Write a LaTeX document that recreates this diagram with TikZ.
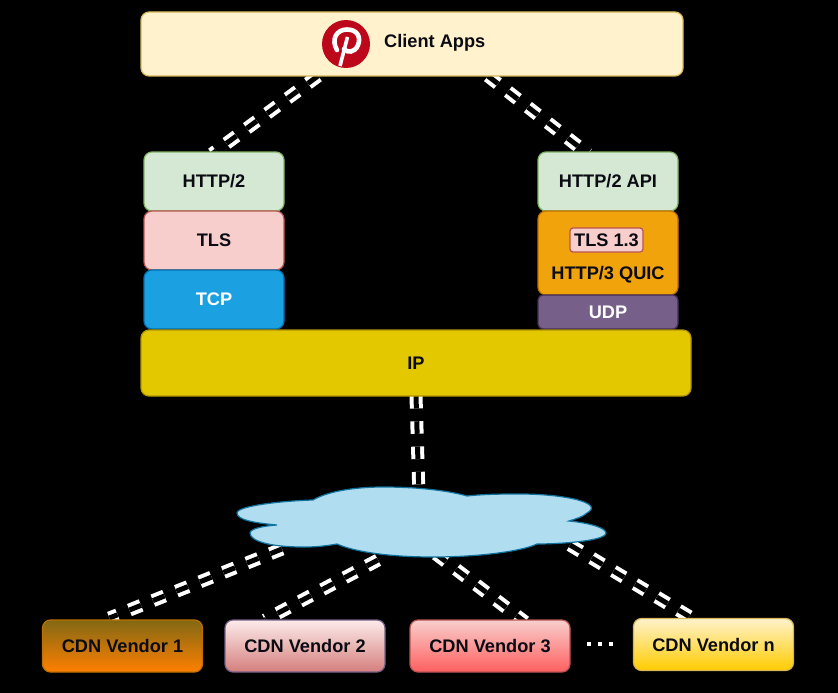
\documentclass[tikz,border=0pt]{standalone}
\usepackage{fontspec}
\setmainfont{Liberation Sans}
\usetikzlibrary{backgrounds}
\definecolor{txt}{HTML}{0B0B14}
\definecolor{yelF}{HTML}{FFF2CC}\definecolor{yelD}{HTML}{D6B656}
\definecolor{grnF}{HTML}{D5E8D4}\definecolor{grnD}{HTML}{82B366}
\definecolor{redF}{HTML}{F8CECC}\definecolor{redD}{HTML}{B85450}
\definecolor{bluF}{HTML}{1BA1E2}\definecolor{bluD}{HTML}{006EAF}
\definecolor{orgF}{HTML}{F0A30A}\definecolor{orgD}{HTML}{BD7000}
\definecolor{purF}{HTML}{76608A}\definecolor{purD}{HTML}{432D57}
\definecolor{ipF}{HTML}{E3C800}\definecolor{ipD}{HTML}{B09500}
\definecolor{cldF}{HTML}{B1DDF0}\definecolor{cldD}{HTML}{10739E}
\definecolor{pinR}{HTML}{BD081C}
\tikzset{
  box/.style={draw,rounded corners=8pt,line width=1.2pt,inner sep=0pt,outer sep=0pt,text=txt,
    font=\fontsize{18.2}{20}\selectfont\bfseries},
  vendor/.style={box,minimum width=160pt,minimum height=52pt},
  stackbox/.style={box,minimum width=140pt},
  label/.style={text=txt,inner sep=0pt,font=\fontsize{18.2}{20}\selectfont\bfseries},
  link/.style={draw=white,line width=4pt,double=black,double distance=5pt,dash pattern=on 12.5pt off 12.8pt},
  dotmark/.style={fill=white,inner sep=0pt,minimum size=4pt}
}
\begin{document}
\begin{tikzpicture}[x=1pt,y=-1pt]
\useasboundingbox (0,0) rectangle (838,693);
% nodes
\node[box,minimum width=542pt,minimum height=64pt,draw=yelD,fill=yelF] (client) at (412,44) {};
\node[label,anchor=west] (clienttxt) at (384,43) {Client Apps};
\node[circle,fill=pinR,minimum size=48pt,inner sep=0pt] (logo) at (346,44) {};
\draw[white,line width=4.6pt,line cap=round] (337,50) .. controls (331,40) and (336,29.5) .. (347,29.5) .. controls (358,29.5) and (361,38) .. (358,45) .. controls (355,53) and (347,53) .. (344,49);
\draw[white,line width=3.6pt] (347.5,37) -- (340,66);

\node[stackbox,minimum height=59pt,draw=grnD,fill=grnF] (http2) at (214,181.5) {HTTP/2};
\node[stackbox,minimum height=59pt,draw=redD,fill=redF] (tls) at (214,240.5) {TLS};
\node[stackbox,minimum height=59pt,draw=bluD,fill=bluF,text=white] (tcp) at (214,299.5) {TCP};

\node[stackbox,minimum height=59pt,draw=grnD,fill=grnF] (api) at (608,181.5) {HTTP/2 API};
\node[stackbox,minimum height=84pt,draw=orgD,fill=orgF] (quic) at (608,253) {};
\node[label] (quictxt) at (608,275) {HTTP/3 QUIC};
\node[box,rounded corners=3pt,minimum width=73pt,minimum height=24pt,draw=redD,fill=redF] (tls13) at (606.5,240) {TLS 1.3};
\node[stackbox,rounded corners=5pt,minimum height=34pt,draw=purD,fill=purF,text=white] (udp) at (608,312) {UDP};

\node[box,minimum width=550pt,minimum height=66pt,draw=ipD,fill=ipF] (ip) at (416,363) {IP};

\coordinate (cloud) at (420,522);
\draw[line width=1.2pt,draw=cldD,fill=cldF]
  (313,500) .. controls (330,490) and (360,487) .. (383,487)
  .. controls (420,487) and (450,491) .. (467,496)
  .. controls (485,494) and (505,494) .. (520,494)
  .. controls (565,494) and (605,503) .. (587,513)
  .. controls (583,517) and (575,519) .. (569,521)
  .. controls (590,523) and (606,528) .. (606,533)
  .. controls (606,541) and (560,544) .. (537,544)
  .. controls (520,552) and (475,557) .. (433,557)
  .. controls (390,557) and (355,552) .. (337,544)
  .. controls (320,547) and (310,547) .. (303,547)
  .. controls (270,547) and (250,541) .. (250,533)
  .. controls (250,529) and (262,526) .. (277,525)
  .. controls (255,523) and (237,520) .. (237,513)
  .. controls (237,506) and (280,501) .. (313,500) -- cycle;

\node[vendor,draw=orgD,top color={rgb:red,255;green,205;blue,40},bottom color=orange!100!yellow] (v1) at (122.5,646) {CDN Vendor 1};
\node[vendor,draw=purF,top color=redF!40!white,bottom color=redD!60!pink] (v2) at (305,646) {CDN Vendor 2};
\node[vendor,draw=redD,top color=redF,bottom color=red!50!pink] (v3) at (490,646) {CDN Vendor 3};
\node[vendor,draw=yelD,top color=yelF,bottom color=yellow!60!orange] (vn) at (713.5,644.5) {CDN Vendor n};
\node[dotmark] (d1) at (589,644) {};
\node[dotmark] (d2) at (600,644) {};
\node[dotmark] (d3) at (611,644) {};

\begin{scope}[on background layer]
\fill[black] (0,0) rectangle (838,693);
\draw[link] ([shift={(-94,0)}]client.south) -- ([shift={(-2,2)}]http2.north);
\draw[link] ([shift={(76,0)}]client.south) -- ([shift={(-20,2)}]api.north);
\draw[link] ([shift={(0,0)}]ip.south) -- ([shift={(0,8)}]cloud);
\draw[link] ([shift={(-138,27)}]cloud) -- ([shift={(-13,-2)}]v1.north);
\draw[link] ([shift={(-42,38)}]cloud) -- ([shift={(-40,0)}]v2.north);
\draw[link] ([shift={(16,32)}]cloud) -- ([shift={(35,2)}]v3.north);
\draw[link] ([shift={(150,23)}]cloud) -- ([shift={(-21,0)}]vn.north);
\end{scope}
\end{tikzpicture}
\end{document}
